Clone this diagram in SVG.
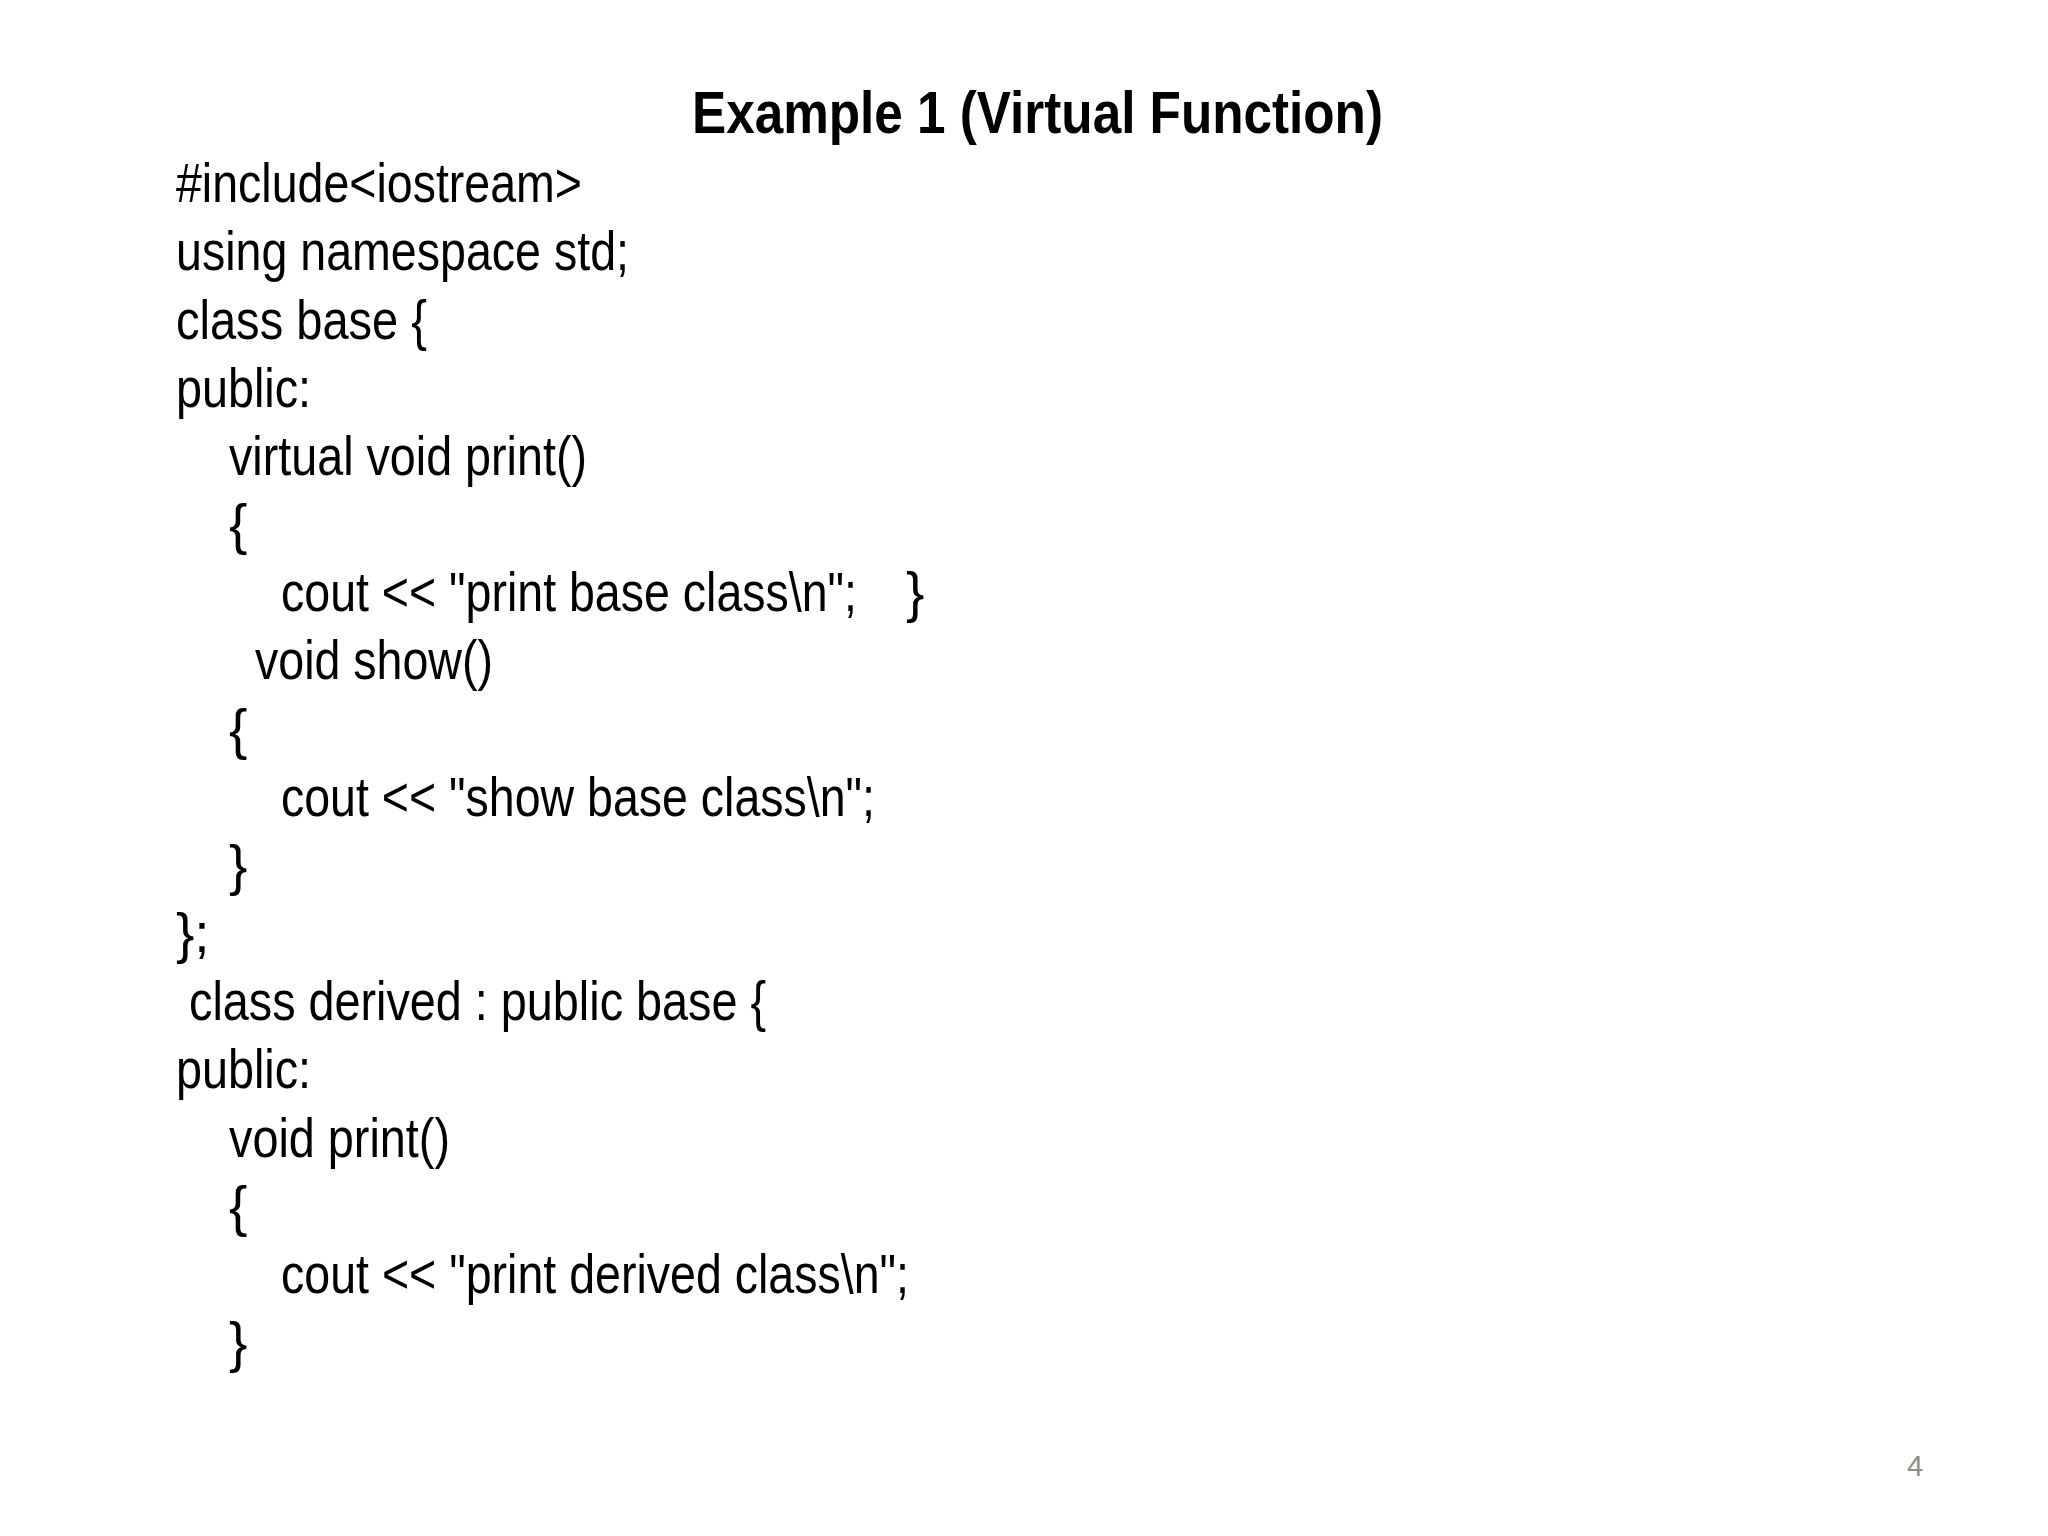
<svg xmlns="http://www.w3.org/2000/svg" width="2048" height="1536" viewBox="0 0 2048 1536">
<style>
.c{font-family:"Liberation Sans",Arial,sans-serif;font-size:55px;fill:#000}
.t{font-family:"Liberation Sans",Arial,sans-serif;font-size:60px;font-weight:bold;fill:#000}
.p{font-family:"Liberation Sans",Arial,sans-serif;font-size:29px;fill:#8c8c8c}
</style>
<rect width="2048" height="1536" fill="#fff"/>
<text class="t" x="692" y="133" textLength="691" lengthAdjust="spacingAndGlyphs">Example 1 (Virtual Function)</text>
<g>
<text class="c" x="176" y="202" textLength="406" lengthAdjust="spacingAndGlyphs">#include&lt;iostream&gt;</text>
<text class="c" x="176" y="270" textLength="453" lengthAdjust="spacingAndGlyphs">using namespace std;</text>
<text class="c" x="176" y="339" textLength="251" lengthAdjust="spacingAndGlyphs">class base {</text>
<text class="c" x="176" y="407" textLength="135" lengthAdjust="spacingAndGlyphs">public:</text>
<text class="c" x="229" y="475" textLength="358" lengthAdjust="spacingAndGlyphs">virtual void print()</text>
<text class="c" x="229" y="543">{</text>
<text class="c" x="281" y="611" textLength="576" lengthAdjust="spacingAndGlyphs">cout &lt;&lt; "print base class\n";</text>
<text class="c" x="906" y="611">}</text>
<text class="c" x="255" y="679" textLength="238" lengthAdjust="spacingAndGlyphs">void show()</text>
<text class="c" x="229" y="748">{</text>
<text class="c" x="281" y="816" textLength="594" lengthAdjust="spacingAndGlyphs">cout &lt;&lt; "show base class\n";</text>
<text class="c" x="229" y="884">}</text>
<text class="c" x="176" y="952">};</text>
<text class="c" x="189" y="1020" textLength="577" lengthAdjust="spacingAndGlyphs">class derived : public base {</text>
<text class="c" x="176" y="1088" textLength="135" lengthAdjust="spacingAndGlyphs">public:</text>
<text class="c" x="229" y="1157" textLength="221" lengthAdjust="spacingAndGlyphs">void print()</text>
<text class="c" x="229" y="1225">{</text>
<text class="c" x="281" y="1293" textLength="628" lengthAdjust="spacingAndGlyphs">cout &lt;&lt; "print derived class\n";</text>
<text class="c" x="229" y="1361">}</text>
</g>
<text class="p" x="1915" y="1476" text-anchor="middle">4</text>
</svg>
